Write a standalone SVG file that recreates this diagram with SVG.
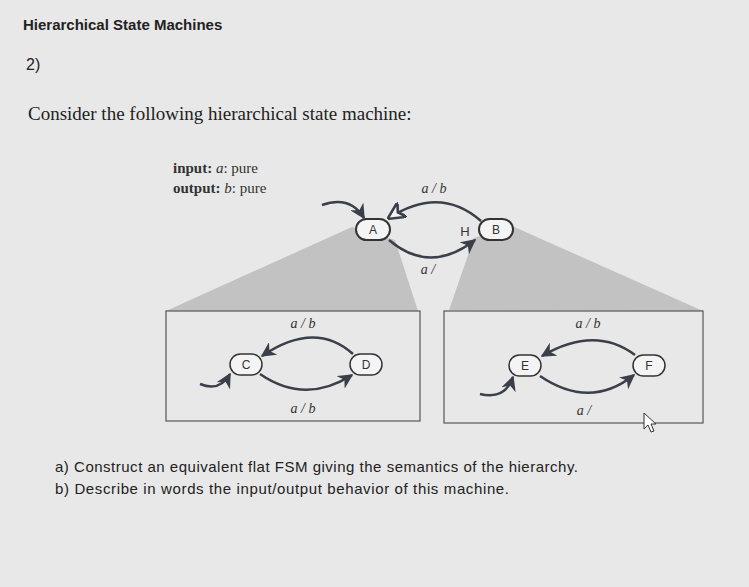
<svg xmlns="http://www.w3.org/2000/svg" width="749" height="587" viewBox="0 0 749 587">
<defs>
<style>
.st{fill:#f4f4f4;stroke:#333;stroke-width:1.5}
.ed{fill:none;stroke:#3a3f4a;stroke-width:2.5}
.lb{font-family:"Liberation Serif",serif;font-style:italic;font-size:14px;fill:#333;text-anchor:middle}
.nm{font-family:"Liberation Sans",sans-serif;font-size:12px;fill:#333;text-anchor:middle}
.tx{font-family:"Liberation Sans",sans-serif;font-size:15px;fill:#222}
.box{fill:none;stroke:#555;stroke-width:1.2}
.tri{fill:#b8b8b8;opacity:0.8}
</style>
<marker id="ah" viewBox="0 0 10 10" refX="9" refY="5" markerWidth="6" markerHeight="6" orient="auto-start-reverse"><path d="M0,0 L10,5 L0,10 L3,5 z" fill="#3a3f4a"/></marker>
<marker id="oh" viewBox="0 0 10 10" refX="9" refY="5" markerWidth="7" markerHeight="7" orient="auto"><path d="M0,0 L10,5 L0,10 L3,5 z" fill="#f4f4f4" stroke="#3a3f4a" stroke-width="1.5"/></marker>
</defs>
<rect width="749" height="587" fill="#e8e8e8"/>
<text x="23" y="30" class="tx" style="font-weight:bold">Hierarchical State Machines</text>
<text x="26" y="70" class="tx" style="font-size:16px">2)</text>
<text x="28" y="120" style="font-family:'Liberation Serif',serif;font-size:19px;fill:#222">Consider the following hierarchical state machine:</text>
<text x="173" y="173" style="font-family:'Liberation Serif',serif;font-size:15px;fill:#333"><tspan font-weight="bold">input:</tspan> <tspan font-style="italic">a</tspan>: pure</text>
<text x="173" y="193" style="font-family:'Liberation Serif',serif;font-size:15px;fill:#333"><tspan font-weight="bold">output:</tspan> <tspan font-style="italic">b</tspan>: pure</text>
<g id="zoomcones">
<polygon class="tri" points="352,227 395,240 418,311 166,311"/>
<polygon class="tri" points="512,226 703,311 449,310 474,238"/>
</g>
<g id="boxL"><rect class="box" x="166" y="311" width="254" height="110"/></g>
<g id="boxR"><rect class="box" x="444" y="311" width="259" height="112"/></g>
<g id="connectors">
<path class="ed" d="M322,205 Q350,195 364,218" marker-end="url(#ah)"/>
<path class="ed" d="M389,240 Q430,275 475,240" marker-end="url(#ah)"/>
<path class="ed" d="M481,221 Q440,185 389,218" marker-end="url(#oh)"/>
<path class="ed" d="M200,384 Q220,392 230,374" marker-end="url(#ah)"/>
<path class="ed" d="M260,374 Q305,405 352,375" marker-end="url(#ah)"/>
<path class="ed" d="M353,354 Q315,320 262,356" marker-end="url(#ah)"/>
<path class="ed" d="M480,394 Q505,400 513,377" marker-end="url(#ah)"/>
<path class="ed" d="M540,376 Q590,410 634,375" marker-end="url(#ah)"/>
<path class="ed" d="M635,355 Q595,325 542,356" marker-end="url(#ah)"/>
</g>
<g id="labels">
<text x="434" y="193" class="lb">a / b</text>
<text x="428" y="274" class="lb">a /</text>
<text x="303" y="328" class="lb">a / b</text>
<text x="303" y="413" class="lb">a / b</text>
<text x="588" y="328" class="lb">a / b</text>
<text x="584" y="415" class="lb">a /</text>
</g>
<g id="A"><rect class="st" x="356" y="219" width="34" height="21" rx="10.5" style="stroke-width:2"/><text x="373" y="234" class="nm">A</text></g>
<g id="B"><text x="465" y="236" class="nm" style="font-size:13px">H</text><rect class="st" x="479" y="219" width="34" height="21" rx="10.5" style="stroke-width:2"/><text x="496" y="234" class="nm">B</text></g>
<g id="C"><rect class="st" x="230" y="354" width="32" height="21" rx="10.5"/><text x="246" y="369" class="nm">C</text></g>
<g id="D"><rect class="st" x="350" y="354" width="32" height="21" rx="10.5"/><text x="366" y="369" class="nm">D</text></g>
<g id="E"><rect class="st" x="509" y="355" width="32" height="21" rx="10.5"/><text x="525" y="370" class="nm">E</text></g>
<g id="F"><rect class="st" x="633" y="355" width="32" height="21" rx="10.5"/><text x="649" y="370" class="nm">F</text></g>
<path d="M644,413 L644,429 L648,425 L651,432 L654,431 L651,424 L656,424 Z" fill="#fff" stroke="#333" stroke-width="1"/>
<text x="55" y="472" class="tx" textLength="523">a)  Construct an equivalent flat FSM giving the semantics of the hierarchy.</text>
<text x="55" y="494" class="tx" textLength="454">b)  Describe in words the input/output behavior of this machine.</text>
</svg>
